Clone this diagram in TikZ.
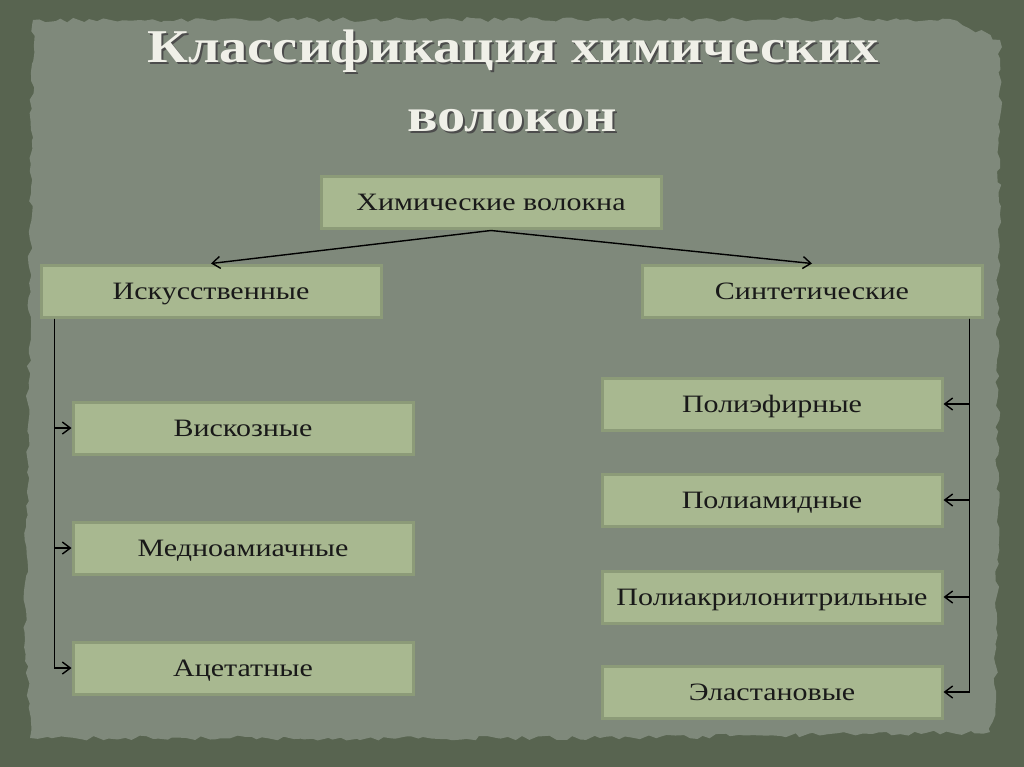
\documentclass[tikz,border=0pt]{standalone}
\usepackage{fontspec}
\setmainfont{Liberation Serif}[FakeStretch=1.2]
\usetikzlibrary{arrows.meta,decorations.pathmorphing}

\definecolor{outerbg}{RGB}{88,100,80}
\definecolor{panelbg}{RGB}{127,137,123}
\definecolor{boxfill}{RGB}{168,184,144}
\definecolor{boxedge}{RGB}{140,155,120}
\definecolor{titlecol}{RGB}{240,240,232}

\begin{document}
\begin{tikzpicture}[x=1pt,y=-1pt,
    box/.style={draw=boxedge,line width=3pt,fill=boxfill,minimum width=340pt,
      minimum height=52pt,inner sep=0pt},
    lbl/.style={anchor=base,text=black!90,font=\fontsize{25}{28}\selectfont},
    title/.style={anchor=base,text=titlecol,font=\fontsize{47}{50}\selectfont\bfseries},
    arr/.style={-{Straight Barb[length=8pt,width=12pt]},line width=1.4pt}]
     \useasboundingbox (0,0) rectangle (1024,767);
     % background and torn panel
     \fill[outerbg] (0,0) rectangle (1024,767);
     \fill[panelbg,decorate,decoration={random steps,segment length=7pt,amplitude=2.5pt}]
       (33,20) -- (950,19) -- (1000,40) -- (996,700) -- (990,732) -- (600,738) -- (30,738) -- (25,640) -- cycle;
     % title
     \node[title,text=black!70] (tsh1) at (515,65) {Классификация химических};
     \node[title,text=black!70] (tsh2) at (514,134) {волокон};
     \node[title] (t1) at (513,63) {Классификация химических};
     \node[title] (t2) at (512,132) {волокон};
     % boxes
     \node[box] (fib) at (491,203) {};
     \node[box] (art) at (211,291) {};
     \node[box] (syn) at (812,291) {};
     \foreach \n/\y in {vis/428,med/548,ace/668}
      \node[box] (\n) at (243,\y) {};
     \foreach \n/\y in {pol/404,pa/500,pan/597,ela/692}
      \node[box] (\n) at (772,\y) {};
     % labels on the baseline
     \foreach \n/\t in {fib/Химические волокна,art/Искусственные,syn/Синтетические,
       vis/Вискозные,med/Медноамиачные,ace/Ацетатные,pol/Полиэфирные,pa/Полиамидные,
       pan/Полиакрилонитрильные,ela/Эластановые}
      \node[lbl] (\n-t) at ([yshift=-8pt]\n.center) {\t};
     % connectors
     \draw[arr] (fib.south) -- (art.north);
     \draw[arr] (fib.south) -- (syn.north);
     \coordinate (busL) at ([xshift=15pt]art.south west);
     \coordinate (busR) at ([xshift=-14pt]syn.south east);
     \foreach \n in {vis,med,ace}
      \draw[arr] (busL) |- (\n.west);
     \foreach \n in {pol,pa,pan,ela}
      \draw[arr] (busR) |- (\n.east);
    \end{tikzpicture}
\end{document}
